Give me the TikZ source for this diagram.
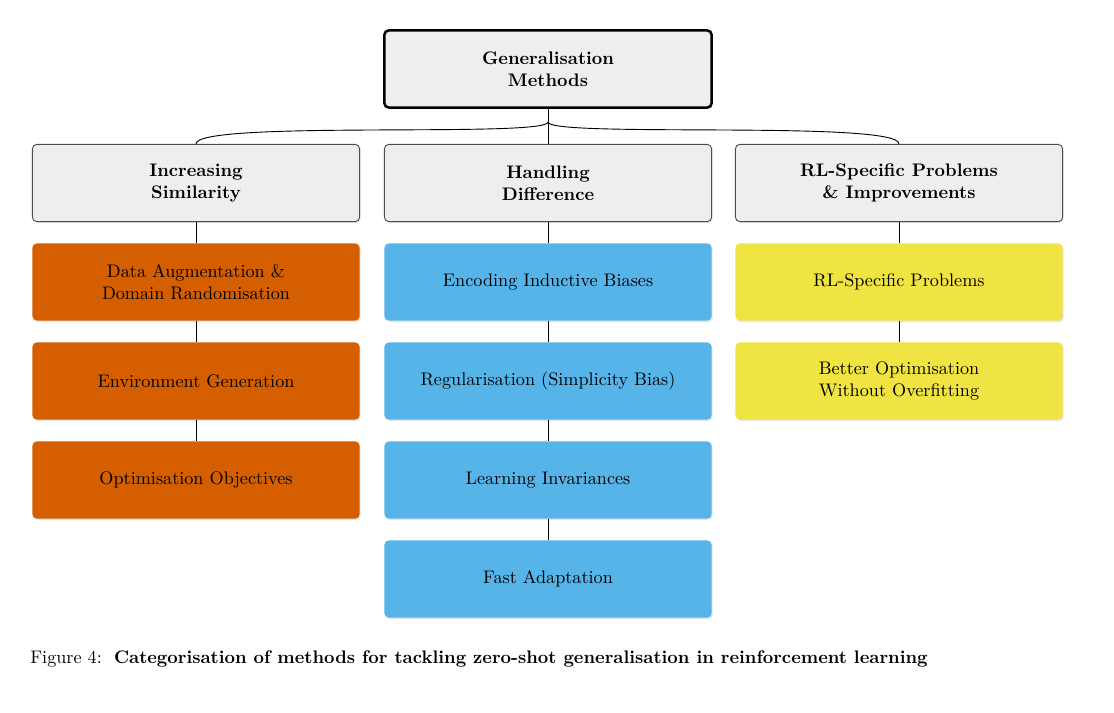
\documentclass[tikz,border=0pt]{standalone}
\usetikzlibrary{shadows}
\definecolor{boxgray}{RGB}{238,238,238}
\definecolor{simorange}{RGB}{213,94,0}
\definecolor{diffblue}{RGB}{86,180,233}
\definecolor{rlyellow}{RGB}{240,228,66}
\begin{document}
\begin{tikzpicture}[x=0.55pt,y=-0.55pt,
    box/.style={rectangle, rounded corners=2.5pt, minimum width=180pt, minimum height=42.5pt,
      align=center, draw=black!70, line width=0.5pt},
    head/.style={box, fill=boxgray, font=\bfseries, drop shadow={opacity=0.2, shadow xshift=0.6pt, shadow yshift=-0.8pt}},
    leaf/.style={box, draw=none, drop shadow={opacity=0.2, shadow xshift=0.6pt, shadow yshift=-0.8pt}},
    sim/.style={leaf, fill=simorange},
    dif/.style={leaf, fill=diffblue},
    rls/.style={leaf, fill=rlyellow},
    link/.style={line width=0.5pt}]
  \useasboundingbox (0,0) rectangle (1114,712);

  \node[head, line width=1.4pt, draw=black] (root) at (548,69) {Generalisation\\Methods};

  \node[head] (sim) at (196,183) {Increasing\\Similarity};
  \node[head] (dif) at (548,183) {Handling\\Difference};
  \node[head] (rl)  at (899,183) {RL-Specific Problems\\\& Improvements};

  \node[sim] (s1) at (196,282) {Data Augmentation \&\\Domain Randomisation};
  \node[sim] (s2) at (196,381) {Environment Generation};
  \node[sim] (s3) at (196,480) {Optimisation Objectives};

  \node[dif] (d1) at (548,282) {Encoding Inductive Biases};
  \node[dif] (d2) at (548,381) {Regularisation (Simplicity Bias)};
  \node[dif] (d3) at (548,480) {Learning Invariances};
  \node[dif] (d4) at (548,579) {Fast Adaptation};

  \node[rls] (r1) at (899,282) {RL-Specific Problems};
  \node[rls] (r2) at (899,381) {Better Optimisation\\Without Overfitting};

  \coordinate (fork) at (548,122);
  \draw[link] (root.south) -- (dif.north);
  \draw[link] (fork) .. controls (548,138) and (196,120) .. (sim.north);
  \draw[link] (fork) .. controls (548,138) and (899,120) .. (rl.north);

  \draw[link] (sim) -- (s1) (s1) -- (s2) (s2) -- (s3);
  \draw[link] (dif) -- (d1) (d1) -- (d2) (d2) -- (d3) (d3) -- (d4);
  \draw[link] (rl) -- (r1) (r1) -- (r2);

  \node[anchor=north west, text width=572pt, align=justify, inner sep=0pt] (cap) at (30,650)
    {Figure 4:\ \ \textbf{Categorisation of methods for tackling zero-shot generalisation in reinforcement learning}};
\end{tikzpicture}
\end{document}
